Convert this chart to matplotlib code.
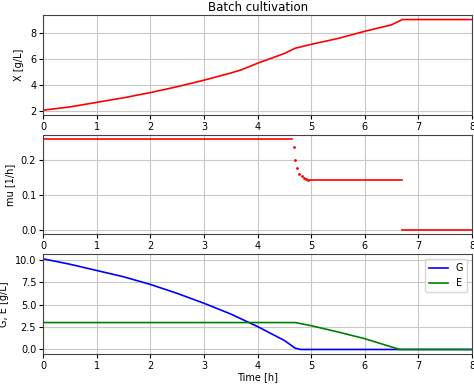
import numpy as np
import matplotlib.pyplot as plt

# biomass X [g/L]
t_x = [0, 0.5, 1, 1.5, 2, 2.5, 3, 3.5, 3.7, 4, 4.5, 4.7, 5, 5.5, 6, 6.5, 6.7, 8]
x_val = [2.05, 2.3, 2.65, 3.0, 3.4, 3.85, 4.35, 4.9, 5.15, 5.65, 6.4, 6.8, 7.1, 7.55, 8.1, 8.6, 9.0, 9.0]

# specific growth rate mu [1/h]; nan separates the pieces
t_mu = [0, 4.65, np.nan, 4.97, 6.7, np.nan, 6.7, 8]
mu_val = [0.26, 0.26, np.nan, 0.142, 0.142, np.nan, 0.0, 0.0]
t_mu_dots = [4.67, 4.70, 4.74, 4.78, 4.82, 4.86, 4.90, 4.94]
mu_dots = [0.237, 0.199, 0.176, 0.161, 0.153, 0.148, 0.145, 0.143]

# glucose G and ethanol E [g/L]
t_g = [0, 0.5, 1, 1.5, 2, 2.5, 3, 3.5, 4, 4.5, 4.7, 4.8, 8]
g_val = [10.1, 9.5, 8.8, 8.1, 7.25, 6.25, 5.15, 3.95, 2.55, 1.0, 0.15, 0.0, 0.0]
t_e = [0, 4.7, 5, 5.5, 6, 6.65, 8]
e_val = [3.0, 3.0, 2.65, 1.95, 1.2, 0.0, 0.0]

plt.rcParams["font.size"] = 7
plt.rcParams["axes.edgecolor"] = "#444444"

fig, axs = plt.subplots(3, 1, figsize=(4.74, 3.85), dpi=100)
fig.subplots_adjust(left=0.091, right=0.996, top=0.961, bottom=0.0805, hspace=0.2)

ax = axs[0]
ax.plot(t_x, x_val, color="r", lw=1.2)
ax.set_ylabel("X [g/L]")
ax.set_title("Batch cultivation", fontsize=8.5, pad=3)

ax = axs[1]
ax.plot(t_mu, mu_val, color="r", lw=1.2)
ax.plot(t_mu_dots, mu_dots, "r.", ms=2)
ax.set_ylabel("mu [1/h]")
ax.set_yticks([0.0, 0.1, 0.2])

ax = axs[2]
ax.plot(t_g, g_val, color="b", lw=1.2, label="G")
ax.plot(t_e, e_val, color="g", lw=1.2, label="E")
ax.set_ylabel("G, E [g/L]")
ax.set_xlabel("Time [h]", labelpad=1)
ax.legend(loc="upper right", fontsize=7)

for ax in axs:
    ax.set_xlim(0, 8)
    ax.grid(True, color="#c8c8c8", lw=0.8)
    ax.tick_params(length=3, pad=2)

plt.savefig("out.png")
